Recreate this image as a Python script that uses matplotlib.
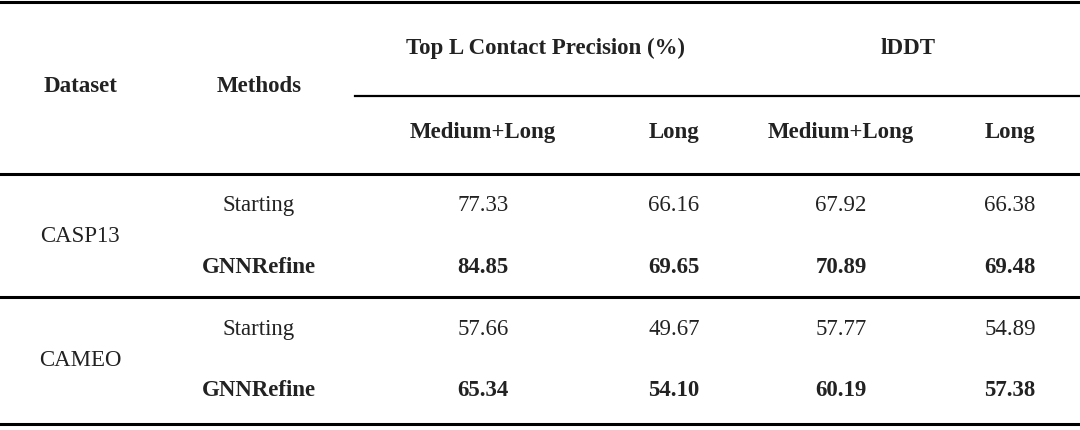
import matplotlib
matplotlib.use("Agg")
from matplotlib import pyplot as plt

plt.rcParams['font.family'] = ['Liberation Serif', 'DejaVu Serif']

datasets = ["CASP13", "CAMEO"]
methods = ["Starting", "GNNRefine"]
sub_headers = ["Medium+Long", "Long", "Medium+Long", "Long"]
values = [
    [77.33, 66.16, 67.92, 66.38],
    [84.85, 69.65, 70.89, 69.48],
    [57.66, 49.67, 57.77, 54.89],
    [65.34, 54.10, 60.19, 57.38],
]

fig = plt.figure(figsize=(10.8, 4.31), dpi=100)
ax = fig.add_axes([0, 0, 1, 1])
ax.set_xlim(0, 1080)
ax.set_ylim(431, 0)
ax.axis('off')

col_x = [483, 674, 841, 1010]
row_y = [206, 268, 330, 391]
fs = 16.5
c = '#222222'

# rules
ax.plot([0, 1080], [3, 3], color='black', lw=2.2)
ax.plot([355, 1080], [97, 97], color='black', lw=1.6)
ax.plot([0, 1080], [175, 175], color='black', lw=2.2)
ax.plot([0, 1080], [298, 298], color='black', lw=2.2)
ax.plot([0, 1080], [425, 425], color='black', lw=2.2)

# headers
ax.text(80, 86, "Dataset", ha='center', va='center', fontsize=fs, weight='bold', color=c)
ax.text(259, 86, "Methods", ha='center', va='center', fontsize=fs, weight='bold', color=c)
ax.text(546, 48, "Top L Contact Precision (%)", ha='center', va='center', fontsize=fs, weight='bold', color=c)
ax.text(908, 48, "lDDT", ha='center', va='center', fontsize=fs, weight='bold', color=c)
for x, h in zip(col_x, sub_headers):
    ax.text(x, 133, h, ha='center', va='center', fontsize=fs, weight='bold', color=c)

# body
for i, d in enumerate(datasets):
    ax.text(80, (row_y[2 * i] + row_y[2 * i + 1]) / 2, d, ha='center', va='center', fontsize=fs, color=c)
    for j, m in enumerate(methods):
        r = 2 * i + j
        w = 'bold' if j == 1 else 'normal'
        ax.text(259, row_y[r], m, ha='center', va='center', fontsize=fs, weight=w, color=c)
        for x, v in zip(col_x, values[r]):
            ax.text(x, row_y[r], f"{v:.2f}", ha='center', va='center', fontsize=fs, weight=w, color=c)

fig.savefig('out.png', dpi=100, facecolor='white')
